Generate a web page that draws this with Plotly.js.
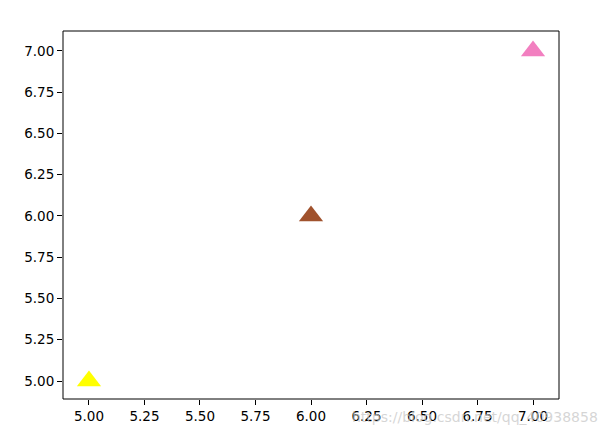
<!DOCTYPE html>
<html><head><meta charset="utf-8">
<script src="https://cdn.plot.ly/plotly-3.0.1.min.js"></script>
<style>html,body{margin:0;padding:0;background:#fff}#plot{width:602px;height:437px}</style>
</head><body><div id="plot"></div>
<script>
const xValues = [5, 6, 7];
const yValues = [5, 6, 7];
const pointColors = ['#ffff00', '#a0522d', '#f27fc0'];

const trace = {
  x: xValues, y: yValues, type: 'scatter', mode: 'markers',
  marker: {symbol: 'triangle-up', size: 21, color: pointColors, line: {width: 0}},
  hoverinfo: 'none'
};
const tickFont = {family: 'DejaVu Sans', size: 13.5, color: '#000'};
const layout = {
  width: 602, height: 437,
  margin: {l: 63, r: 43, t: 31, b: 38, pad: 0},
  paper_bgcolor: '#fff', plot_bgcolor: '#fff',
  showlegend: false,
  xaxis: {range: [4.883, 7.117], dtick: 0.25, tick0: 5, tickformat: '.2f', showgrid: false, zeroline: false,
    ticks: 'outside', ticklen: 5, tickwidth: 1, tickcolor: '#000', tickfont: tickFont, showline: false},
  yaxis: {range: [4.891, 7.121], dtick: 0.25, tick0: 5, tickformat: '.2f', showgrid: false, zeroline: false,
    ticks: 'outside', ticklen: 5, tickwidth: 1, tickcolor: '#000', tickfont: tickFont, showline: false},
  shapes: [{type: 'rect', xref: 'paper', yref: 'paper', x0: 0, x1: 1, y0: 0, y1: 1, line: {color: '#000', width: 1}}],
  annotations: [{text: 'https://blog.csdn.net/qq_40938858', xref: 'paper', yref: 'paper', x: 0.5786, y: -0.049,
    xanchor: 'left', yanchor: 'middle', showarrow: false,
    font: {family: 'DejaVu Sans', size: 14, color: 'rgba(200,200,200,0.75)'}}]
};
Plotly.newPlot('plot', [trace], layout, {staticPlot: true, displayModeBar: false});
</script></body></html>
